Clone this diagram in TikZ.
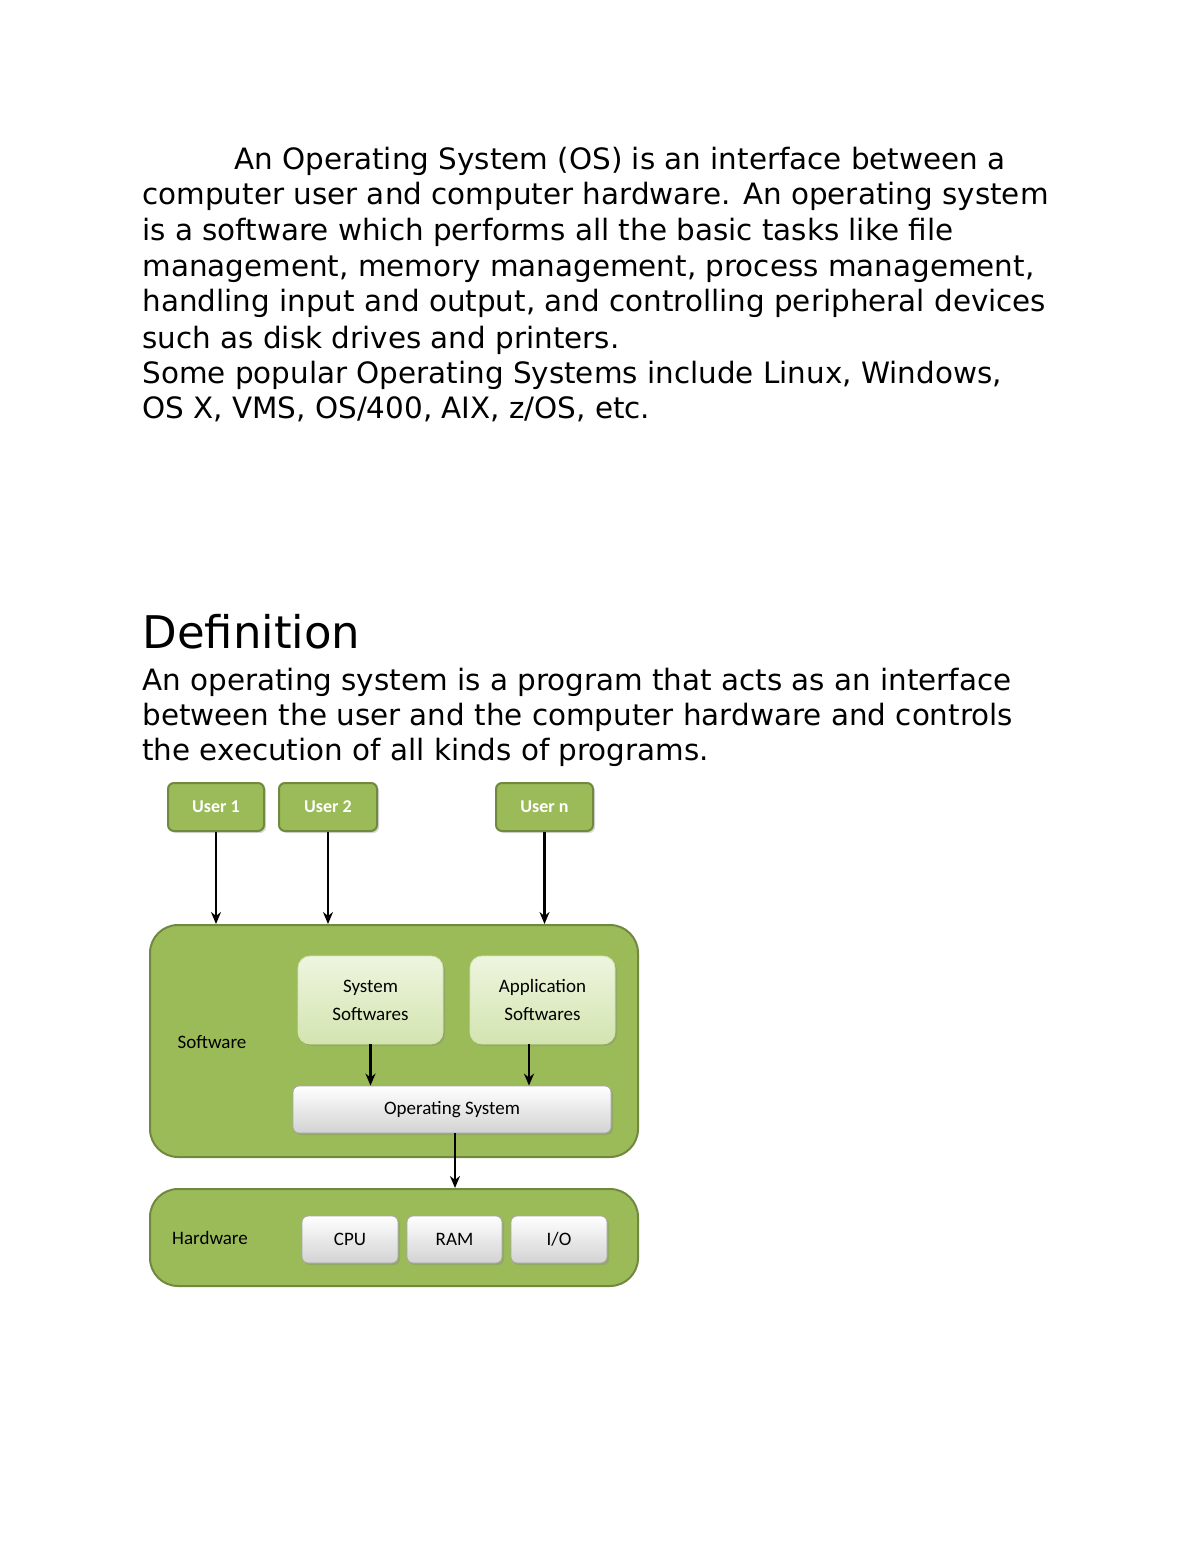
\documentclass[tikz,border=0pt]{standalone}
\usepackage{fontspec}
\setmainfont{DejaVu Sans}
\newfontfamily\diag{Carlito}
\usetikzlibrary{arrows.meta,shadows}
\definecolor{olive}{HTML}{9BBB59}
\definecolor{oliveD}{HTML}{71893F}
\definecolor{lgreen}{HTML}{EEF5DF}
\definecolor{lgreen2}{HTML}{D3E4B0}
\begin{document}
\begin{tikzpicture}[x=0.5pt,y=-0.5pt,
 txt/.style={anchor=mid west,inner sep=0,font=\fontsize{14.7}{17}\selectfont},
 big/.style={draw=oliveD,line width=1pt,fill=olive,rounded corners=14pt},
 user/.style={draw=oliveD,line width=1pt,fill=olive,rounded corners=3pt,font=\diag\bfseries\fontsize{9}{10}\selectfont,text=white,drop shadow={opacity=0.3,shadow xshift=1pt,shadow yshift=-1pt}},
 inner/.style={draw=lgreen2,top color=lgreen,bottom color=lgreen2,rounded corners=6pt,align=center,font=\diag\fontsize{9.5}{14}\selectfont,drop shadow={opacity=0.3,shadow xshift=1pt,shadow yshift=-1pt}},
 gray/.style={draw=gray!70,top color=white,bottom color=gray!35,rounded corners=3pt,font=\diag\fontsize{9.5}{11}\selectfont,drop shadow={opacity=0.3,shadow xshift=1pt,shadow yshift=-1pt}},
 lbl/.style={font=\diag\fontsize{9.5}{11}\selectfont,inner sep=0},
 arr/.style={-{Stealth[length=6pt,width=5pt]},line width=1.1pt}]
\useasboundingbox (0,0) rectangle (1200,1553);
\fill[white] (0,0) rectangle (1200,1553);
\node[txt] (l1) at (234,164) {An Operating System (OS) is an interface between a};
\node[txt] (l2) at (142,199) {computer user and computer hardware. An operating system};
\node[txt] (l3) at (142,235) {is a software which performs all the basic tasks like file};
\node[txt] (l4) at (142,271) {management, memory management, process management,};
\node[txt] (l5) at (142,306) {handling input and output, and controlling peripheral devices};
\node[txt] (l6) at (142,343) {such as disk drives and printers.};
\node[txt] (l7) at (142,378) {Some popular Operating Systems include Linux, Windows,};
\node[txt] (l8) at (142,413) {OS X, VMS, OS/400, AIX, z/OS, etc.};
\node[txt,font=\fontsize{22.5}{25}\selectfont] (h) at (142,643) {Definition};
\node[txt] (d1) at (142,685) {An operating system is a program that acts as an interface};
\node[txt] (d2) at (142,720) {between the user and the computer hardware and controls};
\node[txt] (d3) at (142,755) {the execution of all kinds of programs.};

\node[big,minimum width=244pt,minimum height=116pt] (sw) at (394,1041) {};
\node[big,minimum width=244pt,minimum height=48.5pt] (hw) at (394,1237.5) {};
\node[lbl] (swl) at (212,1042) {Software};
\node[lbl] (hwl) at (210,1238) {Hardware};
\node[user,minimum width=48pt,minimum height=24pt] (u1) at (216,807) {User 1};
\node[user,minimum width=49pt,minimum height=24pt] (u2) at (328,807) {User 2};
\node[user,minimum width=48.5pt,minimum height=24pt] (un) at (544.5,807) {User n};
\node[inner,minimum width=72.5pt,minimum height=44pt] (ss) at (370.5,1000) {System\\Softwares};
\node[inner,minimum width=72.5pt,minimum height=44pt] (as) at (542.5,1000) {Application\\Softwares};
\node[gray,minimum width=159pt,minimum height=23.5pt] (os) at (452,1109.5) {Operating System};
\node[gray,minimum width=48pt,minimum height=23.5pt] (cpu) at (350,1239.5) {CPU};
\node[gray,minimum width=47.5pt,minimum height=23.5pt] (ram) at (454.5,1239.5) {RAM};
\node[gray,minimum width=48pt,minimum height=23.5pt] (io) at (559,1239.5) {I/O};

\draw[arr] (u1.south) -- (u1.south |- sw.north);
\draw[arr] (u2.south) -- (u2.south |- sw.north);
\draw[arr] (un.south) -- (un.south |- sw.north);
\draw[arr] (ss.south) -- (ss.south |- os.north);
\draw[arr] ([xshift=-6.75pt]as.south) -- ([xshift=-6.75pt]as.south |- os.north);
\draw[arr] ([xshift=1.5pt]os.south) -- ([xshift=1.5pt]os.south |- hw.north);
\end{tikzpicture}
\end{document}
